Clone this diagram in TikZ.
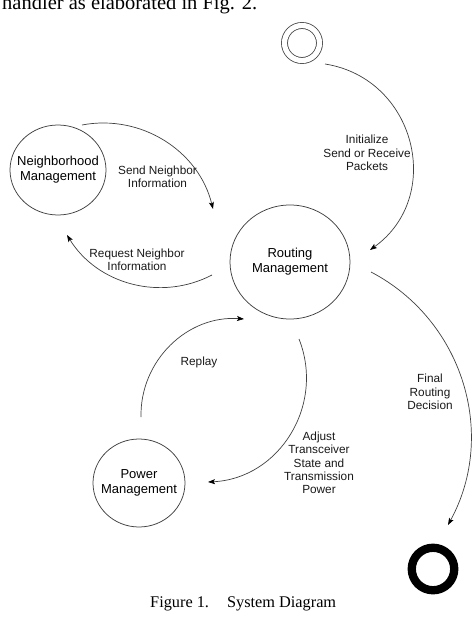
\documentclass[tikz,border=0pt]{standalone}
\usepackage{fontspec}
\setmainfont{Liberation Serif}
\setsansfont{Liberation Sans}
\usetikzlibrary{shapes.geometric,arrows.meta,calc}
\begin{document}
\begin{tikzpicture}[x=1pt,y=-1pt,
  proc/.style={ellipse, draw=black!75, line width=0.75pt, inner sep=0pt,
    font=\sffamily\fontsize{13}{14.5}\selectfont},
  lbl/.style={font=\sffamily\fontsize{11.8}{13.3}\selectfont, align=center, inner sep=0pt, text=black!90},
  flow/.style={draw=black!75, line width=0.7pt, -{Stealth[length=7pt,width=5pt,inset=1.5pt,fill=black,color=black]}},
  plain/.style={anchor=base west, inner sep=0pt}
  ]
\useasboundingbox (0,0) rectangle (474,620);

% top text line (cut by the frame, as in the reference)
\node[plain, font=\fontsize{20.5}{24}\selectfont] (tt) at (2,10) {handler as elaborated in Fig. 2.};

% states
\node[circle, draw=black!75, line width=0.8pt, double, double distance=5.2pt,
      minimum size=35pt, inner sep=0pt] (st) at (302,43) {};
\node[circle, draw=black, line width=8.3pt, minimum size=42.5pt, inner sep=0pt] (en) at (433,569) {};

\node[proc, minimum width=96pt, minimum height=90pt] (nb) at (58,170)
  {\makebox[0pt]{\begin{tabular}{@{}c@{}}Neighborhood\\Management\end{tabular}}};
\node[proc, minimum width=120pt, minimum height=114pt] (rt) at (290,262)
  {\makebox[0pt]{\begin{tabular}{@{}c@{}}Routing\\Management\end{tabular}}};
\node[proc, minimum width=92pt, minimum height=88pt] (pw) at (139,483)
  {\makebox[0pt]{\begin{tabular}{@{}c@{}}Power\\Management\end{tabular}}};

% connectors
\draw[flow] ($(st)+(23,21)$) .. controls +(90.7,14.3) and +(74.6,-53.5) .. ($(rt)+(80,-12)$);
\draw[flow] ($(nb)+(24,-45)$) .. controls +(58.9,-11.2) and +(-14.3,-58.3) .. ($(rt)+(-77,-53)$);
\draw[flow] ($(rt)+(-78,13)$) .. controls +(-51.4,26.7) and +(30.4,49.3) .. ($(nb)+(9,65)$);
\draw[flow] ($(pw)+(2,-66)$) .. controls +(-1.1,-56.6) and +(-56.4,-4.1) .. ($(rt)+(-46,57)$);
\draw[flow] ($(rt)+(9,77)$) .. controls +(26.2,66.3) and +(71.2,-3.4) .. ($(pw)+(69,-1)$);
\draw[flow] ($(rt)+(81,10)$) .. controls +(91.7,48) and +(49.6,-90.9) .. ($(en)+(15,-44)$);

% connector labels
\node[lbl] (l1) at (367,153) {Initialize\\Send or Receive\\Packets};
\node[lbl] (l2) at (157.5,177) {Send Neighbor\\Information};
\node[lbl] (l3) at (137,260) {Request Neighbor\\Information};
\node[lbl] (l4) at (199,362) {Replay};
\node[lbl] (l5) at (319,463) {Adjust\\Transceiver\\State and\\Transmission\\Power};
\node[lbl] (l6) at (430,392) {Final\\Routing\\Decision};

% caption
\node[plain, font=\fontsize{16.3}{19}\selectfont] (cap) at (150,607) {Figure 1.\hspace{18pt}System Diagram};
\end{tikzpicture}
\end{document}
